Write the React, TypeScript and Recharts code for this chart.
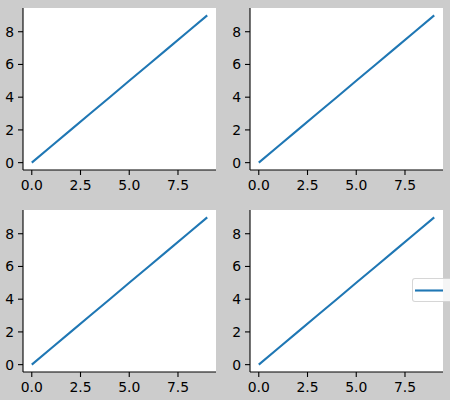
import { CartesianGrid, Legend, Line, LineChart, XAxis, YAxis } from 'recharts'

const xs = [0, 1, 2, 3, 4, 5, 6, 7, 8, 9]
const ys = [0, 1, 2, 3, 4, 5, 6, 7, 8, 9]
const xTicks = [0, 2.5, 5, 7.5]
const yTicks = [0, 2, 4, 6, 8]
const domain: [number, number] = [-0.45, 9.45]

const data = xs.map((x, i) => ({ x, y: ys[i] }))

const tickStyle = { fill: '#000', fontSize: 13.9, fontFamily: 'DejaVu Sans' }
const frame = { stroke: '#000', strokeWidth: 1.1 }

function LegendBox({ payload }: any) {
 const color = payload?.[0]?.color ?? '#1f77b4'
 return (
 <div
 style={{
 width: 70,
 height: 24,
 boxSizing: 'border-box',
 border: '1px solid rgba(204,204,204,0.8)',
 borderRadius: 3,
 background: 'rgba(255,255,255,0.8)',
 position: 'relative',
 }}
 >
 <svg width={70} height={24} style={{ position: 'absolute', left: 0, top: 0 }}>
 <line x1={2} x2={30} y1={11.5} y2={11.5} stroke={color} strokeWidth={2.1} />
 </svg>
 </div>
 )
}

type PanelProps = {
 left: number
 top: number
 yWidth: number
 mTop: number
 mRight: number
 xHeight: number
 legend?: boolean
}

function Panel({ left, top, yWidth, mTop, mRight, xHeight, legend }: PanelProps) {
 return (
 <div style={{ position: 'absolute', left, top }}>
 <LineChart width={225} height={200} data={data} margin={{ top: mTop, right: mRight, left: 0, bottom: 0 }}>
 <CartesianGrid fill="#fff" horizontal={false} vertical={false} />
 <XAxis
 dataKey="x"
 type="number"
 domain={domain}
 allowDataOverflow
 ticks={xTicks}
 tickFormatter={(v: number) => v.toFixed(1)}
 height={xHeight}
 tick={tickStyle}
 tickSize={5}
 tickMargin={5}
 axisLine={frame}
 tickLine={frame}
 interval={0}
 />
 <YAxis
 type="number"
 domain={domain}
 allowDataOverflow
 ticks={yTicks}
 width={yWidth}
 tick={tickStyle}
 tickSize={5}
 tickMargin={4}
 axisLine={frame}
 tickLine={frame}
 interval={0}
 />
 <XAxis xAxisId="top" orientation="top" type="number" domain={domain} height={0} tick={false} tickLine={false} axisLine={frame} />
 <YAxis yAxisId="right" orientation="right" type="number" domain={domain} width={0} tick={false} tickLine={false} axisLine={frame} />
 <Line
 dataKey="y"
 stroke="#1f77b4"
 strokeWidth={2.1}
 dot={false}
 activeDot={false}
 isAnimationActive={false}
 />
 {legend && (
 <Legend
 layout="horizontal"
 verticalAlign="middle"
 align="center"
 content={<LegendBox />}
 wrapperStyle={{ left: 187, top: 78, width: 70, height: 24 }}
 />
 )}
 </LineChart>
 </div>
 )
}

export default function App() {
 return (
 <div
 style={{
 position: 'fixed',
 left: 0,
 top: 0,
 width: 450,
 height: 400,
 background: '#cccccc',
 overflow: 'hidden',
 }}
 >
 <Panel left={0} top={0} yWidth={23} mTop={8} mRight={9} xHeight={30} />
 <Panel left={225} top={0} yWidth={25} mTop={8} mRight={7} xHeight={30} />
 <Panel left={0} top={200} yWidth={23} mTop={10} mRight={9} xHeight={28} />
 <Panel left={225} top={200} yWidth={25} mTop={10} mRight={7} xHeight={28} legend />
 </div>
 )
}
